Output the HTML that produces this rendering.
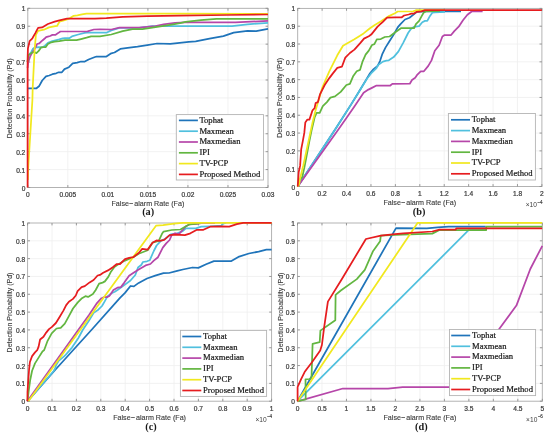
<!DOCTYPE html><html><head><meta charset="utf-8"><style>html,body{margin:0;padding:0;background:#fff;}svg{display:block;}</style></head><body>
<svg width="550" height="437" viewBox="0 0 550 437" style="will-change:transform">
<rect width="550" height="437" fill="#fff"/>
<path d="M67.83 8.3V187.5M107.87 8.3V187.5M147.9 8.3V187.5M187.93 8.3V187.5M227.97 8.3V187.5M27.8 169.58H268M27.8 151.66H268M27.8 133.74H268M27.8 115.82H268M27.8 97.9H268M27.8 79.98H268M27.8 62.06H268M27.8 44.14H268M27.8 26.22H268" stroke="#efefef" stroke-width="0.8" fill="none"/>
<rect x="27.8" y="8.3" width="240.2" height="179.2" fill="none" stroke="#ababab" stroke-width="0.9"/>
<path d="M27.8 187.5v-2.4M27.8 8.3v2.4M67.83 187.5v-2.4M67.83 8.3v2.4M107.87 187.5v-2.4M107.87 8.3v2.4M147.9 187.5v-2.4M147.9 8.3v2.4M187.93 187.5v-2.4M187.93 8.3v2.4M227.97 187.5v-2.4M227.97 8.3v2.4M268 187.5v-2.4M268 8.3v2.4M27.8 187.5h2.4M268 187.5h-2.4M27.8 169.58h2.4M268 169.58h-2.4M27.8 151.66h2.4M268 151.66h-2.4M27.8 133.74h2.4M268 133.74h-2.4M27.8 115.82h2.4M268 115.82h-2.4M27.8 97.9h2.4M268 97.9h-2.4M27.8 79.98h2.4M268 79.98h-2.4M27.8 62.06h2.4M268 62.06h-2.4M27.8 44.14h2.4M268 44.14h-2.4M27.8 26.22h2.4M268 26.22h-2.4M27.8 8.3h2.4M268 8.3h-2.4" stroke="#8f8f8f" stroke-width="0.9" fill="none"/>
<path d="M27.6 88.3 L36.5 88.3 L39 86.3 L42.2 80.5 L46 76.3 L49.2 75.5 L52.4 74.2 L56.2 73.3 L58.7 72.3 L61.9 72.3 L64.5 69.1 L68.9 67.2 L72.7 63.4 L77.2 62.7 L81 61.5 L84.8 61.5 L88.6 59.5 L95 57 L96.5 56.6 L106.4 56.6 L111.3 53.3 L114.5 52.5 L120.3 48.9 L127.6 47.9 L137.5 46.7 L147.3 45.1 L157.1 43.5 L170.2 43.8 L175 43.3 L188.8 41.8 L195.7 41.3 L209.5 38.7 L223.4 36.1 L233.7 32.6 L247.5 30.9 L256.2 31.1 L268 28.8" stroke="#1f74ba" stroke-width="1.75" fill="none" stroke-linejoin="round" stroke-linecap="butt"/>
<path d="M27.6 62 L28.4 55.4 L31.3 52 L33 48.6 L34.7 47.4 L38.7 47.2 L42.1 47.4 L45 45.7 L47.9 42.9 L52.4 41.1 L59.3 39.4 L62.7 38.3 L65 38.1 L69.2 38.2 L71.9 36.4 L78.3 34.5 L84.7 32.9 L89.3 32.5 L106.4 32.7 L111.3 30.4 L119.5 27.9 L139.1 27.9 L152.2 26 L171.8 26 L232 26.1 L247.5 24.3 L268 22.8" stroke="#50c0de" stroke-width="1.75" fill="none" stroke-linejoin="round" stroke-linecap="butt"/>
<path d="M27.6 68 L28.2 62.3 L30.1 56.6 L31.9 53.1 L33.6 50.9 L36.4 45.7 L37 44 L39.3 43.4 L41.6 41.1 L43.3 39.7 L45 38.3 L46.1 37.1 L47.9 36.6 L50.1 36 L52.4 34.9 L55.3 34.9 L58.1 33.1 L60.4 31.5 L87.5 31.3 L93.9 29.5 L100 29.3 L111.3 29.5 L119.5 27.6 L139.1 27.6 L155.5 26 L163.6 24.3 L175 22.8 L185.4 22.3 L235.4 22.3 L268 20.9" stroke="#b646a9" stroke-width="1.75" fill="none" stroke-linejoin="round" stroke-linecap="butt"/>
<path d="M27.6 62 L28.4 55.4 L31.9 52.6 L34.1 52 L36.4 53.1 L38.7 50.9 L41 47.4 L43.3 47.2 L45.6 47.2 L47.9 44 L51.3 42.3 L54.7 41.7 L59.3 41.1 L65 40.2 L76.5 40.2 L81 39.1 L86.5 37.7 L91.1 36.4 L100 36.4 L111.3 34.5 L122.7 31.2 L132.5 29.2 L142.4 29.2 L155.5 27.1 L171.8 24.6 L180 23.2 L185.4 21.9 L200.9 20.2 L216.5 18.8 L268 18.8" stroke="#62b640" stroke-width="1.75" fill="none" stroke-linejoin="round" stroke-linecap="butt"/>
<path d="M27.85 180 L28.2 168 L32.4 100 L32.7 88 L33.6 70 L34.7 48.6 L35.9 34.9 L38.1 30.9 L43.9 29.7 L49 27.4 L55.3 26.2 L57 26 L59.5 21.7 L65.5 19.9 L70.1 18.1 L73.7 15.8 L77.4 15.3 L82 14.4 L86.5 13.6 L95 13.6 L175 13.6 L268 13.9" stroke="#f1e81e" stroke-width="1.75" fill="none" stroke-linejoin="round" stroke-linecap="butt"/>
<path d="M27.6 187.5 L27.6 60 L27.9 48.6 L29.6 41.1 L32.4 38.3 L35.3 33.1 L38.1 27.8 L42.1 27.4 L47.9 24 L54.7 21.7 L59.4 20.3 L67 18.7 L95 18.7 L106.4 18.1 L122.7 16.8 L147.3 16.1 L180 15.7 L226.8 15 L268 14.5" stroke="#e61c1f" stroke-width="1.75" fill="none" stroke-linejoin="round" stroke-linecap="butt"/>
<g font-family='"Liberation Sans", sans-serif' font-size="6.6" fill="#3c3c3c" stroke="#3c3c3c" stroke-width="0.22">
<text x="27.8" y="196.8" text-anchor="middle">0</text>
<text x="67.83" y="196.8" text-anchor="middle">0.005</text>
<text x="107.87" y="196.8" text-anchor="middle">0.01</text>
<text x="147.9" y="196.8" text-anchor="middle">0.015</text>
<text x="187.93" y="196.8" text-anchor="middle">0.02</text>
<text x="227.97" y="196.8" text-anchor="middle">0.025</text>
<text x="268" y="196.8" text-anchor="middle">0.03</text>
<text x="25.3" y="190.5" text-anchor="end">0</text>
<text x="25.3" y="172.58" text-anchor="end">0.1</text>
<text x="25.3" y="154.66" text-anchor="end">0.2</text>
<text x="25.3" y="136.74" text-anchor="end">0.3</text>
<text x="25.3" y="118.82" text-anchor="end">0.4</text>
<text x="25.3" y="100.9" text-anchor="end">0.5</text>
<text x="25.3" y="82.98" text-anchor="end">0.6</text>
<text x="25.3" y="65.06" text-anchor="end">0.7</text>
<text x="25.3" y="47.14" text-anchor="end">0.8</text>
<text x="25.3" y="29.22" text-anchor="end">0.9</text>
<text x="25.3" y="11.3" text-anchor="end">1</text>
</g>
<text x="147.9" y="206" text-anchor="middle" font-family='"Liberation Sans", sans-serif' font-size="7.15" fill="#3c3c3c" stroke="#3c3c3c" stroke-width="0.12">False<tspan dx="0.05">−</tspan><tspan dx="1.1">alarm Rate (Fa)</tspan></text>
<text transform="translate(11.8 98.3) rotate(-90)" x="0" y="0" text-anchor="middle" font-family='"Liberation Sans", sans-serif' font-size="7.05" fill="#3c3c3c" stroke="#3c3c3c" stroke-width="0.12">Detection Probability (Pd)</text>
<text x="148.2" y="215.2" text-anchor="middle" font-family='"Liberation Serif", serif' font-weight="bold" font-size="10.3" fill="#1a1a1a">(a)</text>
<rect x="176.3" y="114.6" width="87.2" height="65.4" fill="#fff" stroke="#b4b4b4" stroke-width="0.9"/>
<path d="M178.9 120.4h19" stroke="#1f74ba" stroke-width="1.7"/>
<text x="199.4" y="122.75" font-family='"Liberation Serif", serif' font-size="8.6" fill="#1a1a1a" stroke="#1a1a1a" stroke-width="0.22">Tophat</text>
<path d="M178.9 131.2h19" stroke="#50c0de" stroke-width="1.7"/>
<text x="199.4" y="133.55" font-family='"Liberation Serif", serif' font-size="8.6" fill="#1a1a1a" stroke="#1a1a1a" stroke-width="0.22">Maxmean</text>
<path d="M178.9 142h19" stroke="#b646a9" stroke-width="1.7"/>
<text x="199.4" y="144.35" font-family='"Liberation Serif", serif' font-size="8.6" fill="#1a1a1a" stroke="#1a1a1a" stroke-width="0.22">Maxmedian</text>
<path d="M178.9 152.8h19" stroke="#62b640" stroke-width="1.7"/>
<text x="199.4" y="155.15" font-family='"Liberation Serif", serif' font-size="8.6" fill="#1a1a1a" stroke="#1a1a1a" stroke-width="0.22">IPI</text>
<path d="M178.9 163.6h19" stroke="#f1e81e" stroke-width="1.7"/>
<text x="199.4" y="165.95" font-family='"Liberation Serif", serif' font-size="8.6" fill="#1a1a1a" stroke="#1a1a1a" stroke-width="0.22">TV-PCP</text>
<path d="M178.9 174.4h19" stroke="#e61c1f" stroke-width="1.7"/>
<text x="199.4" y="176.75" font-family='"Liberation Serif", serif' font-size="8.6" fill="#1a1a1a" stroke="#1a1a1a" stroke-width="0.22">Proposed Method</text>
<path d="M322.12 8.4V186.5M346.54 8.4V186.5M370.96 8.4V186.5M395.38 8.4V186.5M419.8 8.4V186.5M444.22 8.4V186.5M468.64 8.4V186.5M493.06 8.4V186.5M517.48 8.4V186.5M297.7 168.69H541.9M297.7 150.88H541.9M297.7 133.07H541.9M297.7 115.26H541.9M297.7 97.45H541.9M297.7 79.64H541.9M297.7 61.83H541.9M297.7 44.02H541.9M297.7 26.21H541.9" stroke="#efefef" stroke-width="0.8" fill="none"/>
<rect x="297.7" y="8.4" width="244.2" height="178.1" fill="none" stroke="#ababab" stroke-width="0.9"/>
<path d="M297.7 186.5v-2.4M297.7 8.4v2.4M322.12 186.5v-2.4M322.12 8.4v2.4M346.54 186.5v-2.4M346.54 8.4v2.4M370.96 186.5v-2.4M370.96 8.4v2.4M395.38 186.5v-2.4M395.38 8.4v2.4M419.8 186.5v-2.4M419.8 8.4v2.4M444.22 186.5v-2.4M444.22 8.4v2.4M468.64 186.5v-2.4M468.64 8.4v2.4M493.06 186.5v-2.4M493.06 8.4v2.4M517.48 186.5v-2.4M517.48 8.4v2.4M541.9 186.5v-2.4M541.9 8.4v2.4M297.7 186.5h2.4M541.9 186.5h-2.4M297.7 168.69h2.4M541.9 168.69h-2.4M297.7 150.88h2.4M541.9 150.88h-2.4M297.7 133.07h2.4M541.9 133.07h-2.4M297.7 115.26h2.4M541.9 115.26h-2.4M297.7 97.45h2.4M541.9 97.45h-2.4M297.7 79.64h2.4M541.9 79.64h-2.4M297.7 61.83h2.4M541.9 61.83h-2.4M297.7 44.02h2.4M541.9 44.02h-2.4M297.7 26.21h2.4M541.9 26.21h-2.4M297.7 8.4h2.4M541.9 8.4h-2.4" stroke="#8f8f8f" stroke-width="0.9" fill="none"/>
<path d="M297.7 186.5 L334.8 130 L351 104.6 L358.5 92.5 L366.8 78.6 L369.6 73.9 L373.6 69.1 L377.6 65.9 L380 61.1 L382.4 53.8 L385.6 47.4 L389.6 41 L393.7 34.6 L397.7 27.4 L400.5 24.1 L405 19.5 L409.5 17.7 L414.1 14.1 L416.8 11.8 L425 11.4 L461 11.4" stroke="#1f74ba" stroke-width="1.75" fill="none" stroke-linejoin="round" stroke-linecap="butt"/>
<path d="M297.7 186.5 L334.8 130 L351 104.6 L358.5 92.5 L366.8 79 L371.6 72.8 L376.5 68 L378.1 65 L382.9 61.6 L386.4 60.6 L388.8 60.3 L393.7 57.1 L398.5 51.4 L403.3 42.6 L408.1 33 L410.9 29.1 L414.1 26.8 L419.1 26.1 L422.3 22.3 L425 20.9 L427.3 20.9 L430 15.9 L432.3 12.7 L435 12.3 L445 11.8" stroke="#50c0de" stroke-width="1.75" fill="none" stroke-linejoin="round" stroke-linecap="butt"/>
<path d="M297.7 186.5 L338 130 L346.6 117.7 L354.4 106.5 L363.6 92.8 L368.4 89.6 L372.4 87.6 L376.5 85.5 L390.3 85.5 L392.3 83.8 L409.8 83.7 L412 80 L415.2 77.8 L417.4 74.6 L420.7 71.3 L423.9 71.3 L428.3 65.9 L431.5 60.4 L434.8 50.7 L439.1 45.2 L442.4 36.5 L444.6 35 L451.1 35 L454.3 31.1 L458.7 26.7 L463 20.2 L467.4 14.8 L471.7 11.5 L482.6 11.3" stroke="#b646a9" stroke-width="1.75" fill="none" stroke-linejoin="round" stroke-linecap="butt"/>
<path d="M297.7 186.5 L300.1 179.3 L302.2 177.2 L304.3 167.9 L306.3 157.6 L309.4 141.2 L311.5 130.9 L314.6 117.5 L316.6 112.8 L319.7 112.8 L322.8 106.2 L326.9 102.1 L330.4 97.6 L335 96.4 L340.7 91.9 L346.4 85 L349.9 83.9 L353.3 75.9 L356.7 71.3 L360 69.9 L362.4 61.9 L365.6 54.6 L368.8 50.6 L372 45 L374.4 44.2 L376.8 39.4 L380.8 39.1 L384.8 37 L389.6 36.5 L395.3 32.2 L400.9 28.2 L414.1 28.2 L415.9 24.1 L419.1 20.9 L421.8 15.9 L423.6 12.7 L425.9 11.5 L440 11" stroke="#62b640" stroke-width="1.75" fill="none" stroke-linejoin="round" stroke-linecap="butt"/>
<path d="M297.7 186.5 L299.1 184.4 L300.1 178.2 L303.2 165.9 L306.3 151.5 L309.4 137.1 L312.5 122.6 L315.6 110.3 L318.7 100 L322.4 87.3 L329.3 71.3 L337.3 55.3 L343 45.7 L354.4 39.3 L360 35.8 L363.6 33.4 L370 28.3 L374.4 25.2 L381.4 21 L388.3 16.4 L395 13.2 L397.7 11.5 L413.2 11.4 L415.9 10.2 L424.1 10 L445 10.1" stroke="#f1e81e" stroke-width="1.75" fill="none" stroke-linejoin="round" stroke-linecap="butt"/>
<path d="M297.7 186.5 L298.7 172 L300.1 165.9 L301.2 149.4 L302.8 141.2 L304.3 132.9 L305.3 122.6 L307.4 119.6 L309.4 119.6 L311.5 113.4 L312.5 110.3 L314.6 108.2 L315.6 103.1 L317.9 102.1 L320.1 94.1 L324.7 85 L329.3 78.1 L332.7 73.6 L337.3 67.9 L341.9 66.7 L345.3 57.6 L349.9 53 L354.4 49.6 L360 43.4 L364 38.6 L368.8 36.2 L371.2 34.6 L374.4 30.6 L377.6 26.6 L380 24.4 L382.6 22.1 L387.1 17.6 L395 17.3 L401.8 17.3 L404.1 15.5 L408.6 14.5 L411.4 13.6 L414.1 13.6 L416.8 11.8 L421.4 11.4 L425 10.1 L541.9 10.1" stroke="#e61c1f" stroke-width="1.75" fill="none" stroke-linejoin="round" stroke-linecap="butt"/>
<g font-family='"Liberation Sans", sans-serif' font-size="6.6" fill="#3c3c3c" stroke="#3c3c3c" stroke-width="0.22">
<text x="297.7" y="195.8" text-anchor="middle">0</text>
<text x="322.12" y="195.8" text-anchor="middle">0.2</text>
<text x="346.54" y="195.8" text-anchor="middle">0.4</text>
<text x="370.96" y="195.8" text-anchor="middle">0.6</text>
<text x="395.38" y="195.8" text-anchor="middle">0.8</text>
<text x="419.8" y="195.8" text-anchor="middle">1</text>
<text x="444.22" y="195.8" text-anchor="middle">1.2</text>
<text x="468.64" y="195.8" text-anchor="middle">1.4</text>
<text x="493.06" y="195.8" text-anchor="middle">1.6</text>
<text x="517.48" y="195.8" text-anchor="middle">1.8</text>
<text x="541.9" y="195.8" text-anchor="middle">2</text>
<text x="295.2" y="189.5" text-anchor="end">0</text>
<text x="295.2" y="171.69" text-anchor="end">0.1</text>
<text x="295.2" y="153.88" text-anchor="end">0.2</text>
<text x="295.2" y="136.07" text-anchor="end">0.3</text>
<text x="295.2" y="118.26" text-anchor="end">0.4</text>
<text x="295.2" y="100.45" text-anchor="end">0.5</text>
<text x="295.2" y="82.64" text-anchor="end">0.6</text>
<text x="295.2" y="64.83" text-anchor="end">0.7</text>
<text x="295.2" y="47.02" text-anchor="end">0.8</text>
<text x="295.2" y="29.21" text-anchor="end">0.9</text>
<text x="295.2" y="11.4" text-anchor="end">1</text>
</g>
<text x="536.9" y="206.8" text-anchor="end" font-family='"Liberation Sans", sans-serif' font-size="6.6" fill="#3c3c3c">×10</text>
<text x="537.5" y="203.5" font-family='"Liberation Sans", sans-serif' font-size="4.6" fill="#3c3c3c" stroke="#3c3c3c" stroke-width="0.15" letter-spacing="-0.25">−4</text>
<text x="419.8" y="205" text-anchor="middle" font-family='"Liberation Sans", sans-serif' font-size="7.15" fill="#3c3c3c" stroke="#3c3c3c" stroke-width="0.12">False<tspan dx="0.05">−</tspan><tspan dx="1.1">alarm Rate (Fa)</tspan></text>
<text transform="translate(282.2 97.85) rotate(-90)" x="0" y="0" text-anchor="middle" font-family='"Liberation Sans", sans-serif' font-size="7.05" fill="#3c3c3c" stroke="#3c3c3c" stroke-width="0.12">Detection Probability (Pd)</text>
<text x="419.1" y="215.2" text-anchor="middle" font-family='"Liberation Serif", serif' font-weight="bold" font-size="10.3" fill="#1a1a1a">(b)</text>
<rect x="448.4" y="113.5" width="87" height="66.5" fill="#fff" stroke="#b4b4b4" stroke-width="0.9"/>
<path d="M451 119.8h19" stroke="#1f74ba" stroke-width="1.7"/>
<text x="471.7" y="122.15" font-family='"Liberation Serif", serif' font-size="8.6" fill="#1a1a1a" stroke="#1a1a1a" stroke-width="0.22">Tophat</text>
<path d="M451 130.6h19" stroke="#50c0de" stroke-width="1.7"/>
<text x="471.7" y="132.95" font-family='"Liberation Serif", serif' font-size="8.6" fill="#1a1a1a" stroke="#1a1a1a" stroke-width="0.22">Maxmean</text>
<path d="M451 141.4h19" stroke="#b646a9" stroke-width="1.7"/>
<text x="471.7" y="143.75" font-family='"Liberation Serif", serif' font-size="8.6" fill="#1a1a1a" stroke="#1a1a1a" stroke-width="0.22">Maxmedian</text>
<path d="M451 152.2h19" stroke="#62b640" stroke-width="1.7"/>
<text x="471.7" y="154.55" font-family='"Liberation Serif", serif' font-size="8.6" fill="#1a1a1a" stroke="#1a1a1a" stroke-width="0.22">IPI</text>
<path d="M451 163h19" stroke="#f1e81e" stroke-width="1.7"/>
<text x="471.7" y="165.35" font-family='"Liberation Serif", serif' font-size="8.6" fill="#1a1a1a" stroke="#1a1a1a" stroke-width="0.22">TV-PCP</text>
<path d="M451 173.8h19" stroke="#e61c1f" stroke-width="1.7"/>
<text x="471.7" y="176.15" font-family='"Liberation Serif", serif' font-size="8.6" fill="#1a1a1a" stroke="#1a1a1a" stroke-width="0.22">Proposed Method</text>
<path d="M52 223V401.2M76.4 223V401.2M100.8 223V401.2M125.2 223V401.2M149.6 223V401.2M174 223V401.2M198.4 223V401.2M222.8 223V401.2M247.2 223V401.2M27.6 383.38H271.6M27.6 365.56H271.6M27.6 347.74H271.6M27.6 329.92H271.6M27.6 312.1H271.6M27.6 294.28H271.6M27.6 276.46H271.6M27.6 258.64H271.6M27.6 240.82H271.6" stroke="#efefef" stroke-width="0.8" fill="none"/>
<rect x="27.6" y="223" width="244" height="178.2" fill="none" stroke="#ababab" stroke-width="0.9"/>
<path d="M27.6 401.2v-2.4M27.6 223v2.4M52 401.2v-2.4M52 223v2.4M76.4 401.2v-2.4M76.4 223v2.4M100.8 401.2v-2.4M100.8 223v2.4M125.2 401.2v-2.4M125.2 223v2.4M149.6 401.2v-2.4M149.6 223v2.4M174 401.2v-2.4M174 223v2.4M198.4 401.2v-2.4M198.4 223v2.4M222.8 401.2v-2.4M222.8 223v2.4M247.2 401.2v-2.4M247.2 223v2.4M271.6 401.2v-2.4M271.6 223v2.4M27.6 401.2h2.4M271.6 401.2h-2.4M27.6 383.38h2.4M271.6 383.38h-2.4M27.6 365.56h2.4M271.6 365.56h-2.4M27.6 347.74h2.4M271.6 347.74h-2.4M27.6 329.92h2.4M271.6 329.92h-2.4M27.6 312.1h2.4M271.6 312.1h-2.4M27.6 294.28h2.4M271.6 294.28h-2.4M27.6 276.46h2.4M271.6 276.46h-2.4M27.6 258.64h2.4M271.6 258.64h-2.4M27.6 240.82h2.4M271.6 240.82h-2.4M27.6 223h2.4M271.6 223h-2.4" stroke="#8f8f8f" stroke-width="0.9" fill="none"/>
<path d="M27.6 401.2 L56 369 L91.4 330 L120 297.8 L125 292.9 L130.5 286 L133.9 286.4 L138.7 282.9 L147 278.5 L155.2 275.7 L163.5 273.2 L169 273 L177.2 270.9 L182.8 269.5 L192.5 267.5 L198.3 267.9 L206.1 264.2 L213.9 261.1 L231.4 261.1 L239.2 256.6 L248.9 253.5 L258.7 251.6 L266.4 249.6 L271.6 249.6" stroke="#1f74ba" stroke-width="1.75" fill="none" stroke-linejoin="round" stroke-linecap="butt"/>
<path d="M27.6 401.2 L53.5 371.2 L55.2 368.3 L56 365.2 L58.4 361.2 L64 356.4 L65.6 354.8 L72 347.6 L78.4 338 L82.7 330 L89.2 320.2 L93.7 312.9 L98.3 309.7 L102 306 L104.7 301.4 L107.5 296.4 L111.6 293.2 L114.8 291.8 L117.5 290 L125 284.6 L130.5 280.5 L135.3 275 L138 267.5 L141.5 264.7 L142.9 262 L147 261.3 L149.7 260.3 L153.8 251 L156.6 245.5 L160.9 240.9 L165.3 238.7 L170.7 234.4 L177.3 233.3 L182.7 231.1 L186 228.4 L195.8 228.4 L201.3 226.7 L210.1 226.3 L221.5 225.6 L222.8 223.7 L226 222.8" stroke="#50c0de" stroke-width="1.75" fill="none" stroke-linejoin="round" stroke-linecap="butt"/>
<path d="M27.3 401.2 L80 327.5 L89.2 314.7 L96.5 303.7 L101.5 298.2 L104.7 296.9 L107 297.1 L109.3 296 L111.6 292.7 L113.4 290 L117.4 287.7 L120.9 287.1 L124.3 282.6 L129.1 275.7 L133.2 273 L138.7 269.5 L145.6 265.4 L150.4 264 L153.8 260.6 L158 257.2 L162.8 247.6 L166.2 243.4 L169.6 240 L171.8 234.9 L175.1 233.3 L178.9 234.1 L182.7 230 L186 226.2 L189.3 224.5 L196.9 223.9 L201.3 223.1 L215 223.1" stroke="#b646a9" stroke-width="1.75" fill="none" stroke-linejoin="round" stroke-linecap="butt"/>
<path d="M27.5 401.2 L28.6 392 L30.2 380 L32.1 370.7 L35 363.4 L38.6 357.6 L42.3 351.7 L44.2 350 L47.6 340.8 L51.7 333.3 L56.5 328.5 L60.7 327.8 L64.8 323.7 L68.9 316.1 L73 308.5 L77.8 302.4 L82 298.2 L85.4 296.2 L88.1 296.9 L92.9 294.1 L95.7 290 L99.1 283.7 L102.6 282.6 L104.9 281.4 L108.3 276.9 L110.6 272.3 L114.4 266.9 L117.6 264.8 L125 260.6 L133.2 257.2 L138.7 253.7 L147.7 250.3 L152.5 242.7 L158.7 240.9 L162 233.8 L163.6 231.6 L171.8 230 L180.5 229.5 L186 226.2 L189.3 224.5 L196.9 223.7 L201.3 222.9" stroke="#62b640" stroke-width="1.75" fill="none" stroke-linejoin="round" stroke-linecap="butt"/>
<path d="M28.3 401.2 L156 225.7 L163.1 225.1 L174 223.7 L182.7 222.9 L271.6 222.9" stroke="#f1e81e" stroke-width="1.75" fill="none" stroke-linejoin="round" stroke-linecap="butt"/>
<path d="M27.4 401.2 L27.5 392 L28.3 380 L29.1 369.3 L29.9 362 L32.1 356.1 L35 352.4 L37.2 350.2 L38.6 346.6 L40.1 339.5 L43.5 336.7 L46.2 332.6 L49 329.1 L51.7 327.1 L55.9 323 L59.3 317.5 L63.4 310.6 L66.2 305.1 L68.9 301.7 L73 298.9 L75.8 295.5 L77.6 291.2 L81.6 287.2 L84.8 286.1 L89.6 282.4 L93.6 280 L97.6 275.5 L100 274.9 L103.2 272.8 L108 270.4 L112.8 267.2 L116.8 264 L120 264 L125 259.2 L129.1 257.9 L133.2 257.2 L138.7 253 L142.2 248.9 L147.7 249.6 L152.5 242.7 L156.5 240.4 L159.8 240.9 L164.2 239.8 L169.6 235.2 L175.1 234.6 L184.9 235.2 L190.4 233.3 L196.9 229.8 L203.4 229.8 L210.1 226.7 L221.5 226.3 L229.2 226.7 L236.8 224.1 L243.2 222.8 L271.6 222.8" stroke="#e61c1f" stroke-width="1.75" fill="none" stroke-linejoin="round" stroke-linecap="butt"/>
<g font-family='"Liberation Sans", sans-serif' font-size="6.6" fill="#3c3c3c" stroke="#3c3c3c" stroke-width="0.22">
<text x="27.6" y="411.1" text-anchor="middle">0</text>
<text x="52" y="411.1" text-anchor="middle">0.1</text>
<text x="76.4" y="411.1" text-anchor="middle">0.2</text>
<text x="100.8" y="411.1" text-anchor="middle">0.3</text>
<text x="125.2" y="411.1" text-anchor="middle">0.4</text>
<text x="149.6" y="411.1" text-anchor="middle">0.5</text>
<text x="174" y="411.1" text-anchor="middle">0.6</text>
<text x="198.4" y="411.1" text-anchor="middle">0.7</text>
<text x="222.8" y="411.1" text-anchor="middle">0.8</text>
<text x="247.2" y="411.1" text-anchor="middle">0.9</text>
<text x="271.6" y="411.1" text-anchor="middle">1</text>
<text x="25.1" y="404.2" text-anchor="end">0</text>
<text x="25.1" y="386.38" text-anchor="end">0.1</text>
<text x="25.1" y="368.56" text-anchor="end">0.2</text>
<text x="25.1" y="350.74" text-anchor="end">0.3</text>
<text x="25.1" y="332.92" text-anchor="end">0.4</text>
<text x="25.1" y="315.1" text-anchor="end">0.5</text>
<text x="25.1" y="297.28" text-anchor="end">0.6</text>
<text x="25.1" y="279.46" text-anchor="end">0.7</text>
<text x="25.1" y="261.64" text-anchor="end">0.8</text>
<text x="25.1" y="243.82" text-anchor="end">0.9</text>
<text x="25.1" y="226" text-anchor="end">1</text>
</g>
<text x="266.6" y="421.5" text-anchor="end" font-family='"Liberation Sans", sans-serif' font-size="6.6" fill="#3c3c3c">×10</text>
<text x="267.2" y="418.2" font-family='"Liberation Sans", sans-serif' font-size="4.6" fill="#3c3c3c" stroke="#3c3c3c" stroke-width="0.15" letter-spacing="-0.25">−4</text>
<text x="149.6" y="420.1" text-anchor="middle" font-family='"Liberation Sans", sans-serif' font-size="7.15" fill="#3c3c3c" stroke="#3c3c3c" stroke-width="0.12">False<tspan dx="0.05">−</tspan><tspan dx="1.1">alarm Rate (Fa)</tspan></text>
<text transform="translate(12.3 312.5) rotate(-90)" x="0" y="0" text-anchor="middle" font-family='"Liberation Sans", sans-serif' font-size="7.05" fill="#3c3c3c" stroke="#3c3c3c" stroke-width="0.12">Detection Probability (Pd)</text>
<text x="151" y="429.5" text-anchor="middle" font-family='"Liberation Serif", serif' font-weight="bold" font-size="10.3" fill="#1a1a1a">(c)</text>
<rect x="180.4" y="330.4" width="86.2" height="66" fill="#fff" stroke="#b4b4b4" stroke-width="0.9"/>
<path d="M182.3 336.5h19" stroke="#1f74ba" stroke-width="1.7"/>
<text x="203.1" y="338.85" font-family='"Liberation Serif", serif' font-size="8.6" fill="#1a1a1a" stroke="#1a1a1a" stroke-width="0.22">Tophat</text>
<path d="M182.3 347.3h19" stroke="#50c0de" stroke-width="1.7"/>
<text x="203.1" y="349.65" font-family='"Liberation Serif", serif' font-size="8.6" fill="#1a1a1a" stroke="#1a1a1a" stroke-width="0.22">Maxmean</text>
<path d="M182.3 358.1h19" stroke="#b646a9" stroke-width="1.7"/>
<text x="203.1" y="360.45" font-family='"Liberation Serif", serif' font-size="8.6" fill="#1a1a1a" stroke="#1a1a1a" stroke-width="0.22">Maxmedian</text>
<path d="M182.3 368.9h19" stroke="#62b640" stroke-width="1.7"/>
<text x="203.1" y="371.25" font-family='"Liberation Serif", serif' font-size="8.6" fill="#1a1a1a" stroke="#1a1a1a" stroke-width="0.22">IPI</text>
<path d="M182.3 379.7h19" stroke="#f1e81e" stroke-width="1.7"/>
<text x="203.1" y="382.05" font-family='"Liberation Serif", serif' font-size="8.6" fill="#1a1a1a" stroke="#1a1a1a" stroke-width="0.22">TV-PCP</text>
<path d="M182.3 390.5h19" stroke="#e61c1f" stroke-width="1.7"/>
<text x="203.1" y="392.85" font-family='"Liberation Serif", serif' font-size="8.6" fill="#1a1a1a" stroke="#1a1a1a" stroke-width="0.22">Proposed Method</text>
<path d="M321.98 223V401.2M346.46 223V401.2M370.94 223V401.2M395.42 223V401.2M419.9 223V401.2M444.38 223V401.2M468.86 223V401.2M493.34 223V401.2M517.82 223V401.2M297.5 383.38H542.3M297.5 365.56H542.3M297.5 347.74H542.3M297.5 329.92H542.3M297.5 312.1H542.3M297.5 294.28H542.3M297.5 276.46H542.3M297.5 258.64H542.3M297.5 240.82H542.3" stroke="#efefef" stroke-width="0.8" fill="none"/>
<rect x="297.5" y="223" width="244.8" height="178.2" fill="none" stroke="#ababab" stroke-width="0.9"/>
<path d="M297.5 401.2v-2.4M297.5 223v2.4M321.98 401.2v-2.4M321.98 223v2.4M346.46 401.2v-2.4M346.46 223v2.4M370.94 401.2v-2.4M370.94 223v2.4M395.42 401.2v-2.4M395.42 223v2.4M419.9 401.2v-2.4M419.9 223v2.4M444.38 401.2v-2.4M444.38 223v2.4M468.86 401.2v-2.4M468.86 223v2.4M493.34 401.2v-2.4M493.34 223v2.4M517.82 401.2v-2.4M517.82 223v2.4M542.3 401.2v-2.4M542.3 223v2.4M297.5 401.2h2.4M542.3 401.2h-2.4M297.5 383.38h2.4M542.3 383.38h-2.4M297.5 365.56h2.4M542.3 365.56h-2.4M297.5 347.74h2.4M542.3 347.74h-2.4M297.5 329.92h2.4M542.3 329.92h-2.4M297.5 312.1h2.4M542.3 312.1h-2.4M297.5 294.28h2.4M542.3 294.28h-2.4M297.5 276.46h2.4M542.3 276.46h-2.4M297.5 258.64h2.4M542.3 258.64h-2.4M297.5 240.82h2.4M542.3 240.82h-2.4M297.5 223h2.4M542.3 223h-2.4" stroke="#8f8f8f" stroke-width="0.9" fill="none"/>
<path d="M297.5 401.2 L396 228.1 L426.8 228.4 L437.7 227.4 L448.6 226.7 L485.7 226.7" stroke="#1f74ba" stroke-width="1.75" fill="none" stroke-linejoin="round" stroke-linecap="butt"/>
<path d="M297.5 401.2 L468.6 230.2 L486 230.2" stroke="#50c0de" stroke-width="1.75" fill="none" stroke-linejoin="round" stroke-linecap="butt"/>
<path d="M297.5 401.3 L342.9 388.5 L370 388.6 L388 388.6 L402.7 387.1 L461 387.1 L499 329.3 L516.4 305.6 L530.3 269 L542.3 245.8" stroke="#b646a9" stroke-width="1.75" fill="none" stroke-linejoin="round" stroke-linecap="butt"/>
<path d="M297.5 401.2 L305.7 399.5 L305.5 379.3 L309.6 379 L311.5 377.8 L312.6 343.9 L319.7 342.2 L320.4 330.6 L335.3 320.2 L335.6 294.9 L340.8 290.5 L356.8 279.1 L364.8 269.9 L372.8 251.6 L380.1 241.3 L380.8 235.6 L395 234.8 L432.3 233.6 L439.5 230 L486.2 230 L486.2 226.7 L542.2 226.7" stroke="#62b640" stroke-width="1.75" fill="none" stroke-linejoin="round" stroke-linecap="butt"/>
<path d="M297.5 401.2 L417.7 222.8 L542.2 222.8" stroke="#f1e81e" stroke-width="1.75" fill="none" stroke-linejoin="round" stroke-linecap="butt"/>
<path d="M297.6 401.2 L297.6 387 L298.7 384.6 L301 379.3 L304.6 372.1 L307.2 368.5 L311.8 362.5 L320.2 350.5 L321.9 345 L324.1 327.6 L327.9 301.6 L341.3 280 L365.9 239 L380.8 235.6 L395 234.2 L403.2 233.4 L432.3 231.5 L439.5 229.7 L455.6 229.7 L456.4 228.3 L542.2 228.3" stroke="#e61c1f" stroke-width="1.75" fill="none" stroke-linejoin="round" stroke-linecap="butt"/>
<g font-family='"Liberation Sans", sans-serif' font-size="6.6" fill="#3c3c3c" stroke="#3c3c3c" stroke-width="0.22">
<text x="297.5" y="411.1" text-anchor="middle">0</text>
<text x="321.98" y="411.1" text-anchor="middle">0.5</text>
<text x="346.46" y="411.1" text-anchor="middle">1</text>
<text x="370.94" y="411.1" text-anchor="middle">1.5</text>
<text x="395.42" y="411.1" text-anchor="middle">2</text>
<text x="419.9" y="411.1" text-anchor="middle">2.5</text>
<text x="444.38" y="411.1" text-anchor="middle">3</text>
<text x="468.86" y="411.1" text-anchor="middle">3.5</text>
<text x="493.34" y="411.1" text-anchor="middle">4</text>
<text x="517.82" y="411.1" text-anchor="middle">4.5</text>
<text x="542.3" y="411.1" text-anchor="middle">5</text>
<text x="295" y="404.2" text-anchor="end">0</text>
<text x="295" y="386.38" text-anchor="end">0.1</text>
<text x="295" y="368.56" text-anchor="end">0.2</text>
<text x="295" y="350.74" text-anchor="end">0.3</text>
<text x="295" y="332.92" text-anchor="end">0.4</text>
<text x="295" y="315.1" text-anchor="end">0.5</text>
<text x="295" y="297.28" text-anchor="end">0.6</text>
<text x="295" y="279.46" text-anchor="end">0.7</text>
<text x="295" y="261.64" text-anchor="end">0.8</text>
<text x="295" y="243.82" text-anchor="end">0.9</text>
<text x="295" y="226" text-anchor="end">1</text>
</g>
<text x="537.3" y="421.5" text-anchor="end" font-family='"Liberation Sans", sans-serif' font-size="6.6" fill="#3c3c3c">×10</text>
<text x="537.9" y="418.2" font-family='"Liberation Sans", sans-serif' font-size="4.6" fill="#3c3c3c" stroke="#3c3c3c" stroke-width="0.15" letter-spacing="-0.25">−6</text>
<text x="419.9" y="420.1" text-anchor="middle" font-family='"Liberation Sans", sans-serif' font-size="7.15" fill="#3c3c3c" stroke="#3c3c3c" stroke-width="0.12">False<tspan dx="0.05">−</tspan><tspan dx="1.1">alarm Rate (Fa)</tspan></text>
<text transform="translate(282.5 312.5) rotate(-90)" x="0" y="0" text-anchor="middle" font-family='"Liberation Sans", sans-serif' font-size="7.05" fill="#3c3c3c" stroke="#3c3c3c" stroke-width="0.12">Detection Probability (Pd)</text>
<text x="421.4" y="429.8" text-anchor="middle" font-family='"Liberation Serif", serif' font-weight="bold" font-size="10.3" fill="#1a1a1a">(d)</text>
<rect x="449.5" y="329.5" width="86.1" height="66.1" fill="#fff" stroke="#b4b4b4" stroke-width="0.9"/>
<path d="M451.2 335.5h19" stroke="#1f74ba" stroke-width="1.7"/>
<text x="472.1" y="337.85" font-family='"Liberation Serif", serif' font-size="8.6" fill="#1a1a1a" stroke="#1a1a1a" stroke-width="0.22">Tophat</text>
<path d="M451.2 346.3h19" stroke="#50c0de" stroke-width="1.7"/>
<text x="472.1" y="348.65" font-family='"Liberation Serif", serif' font-size="8.6" fill="#1a1a1a" stroke="#1a1a1a" stroke-width="0.22">Maxmean</text>
<path d="M451.2 357.1h19" stroke="#b646a9" stroke-width="1.7"/>
<text x="472.1" y="359.45" font-family='"Liberation Serif", serif' font-size="8.6" fill="#1a1a1a" stroke="#1a1a1a" stroke-width="0.22">Maxmedian</text>
<path d="M451.2 367.9h19" stroke="#62b640" stroke-width="1.7"/>
<text x="472.1" y="370.25" font-family='"Liberation Serif", serif' font-size="8.6" fill="#1a1a1a" stroke="#1a1a1a" stroke-width="0.22">IPI</text>
<path d="M451.2 378.7h19" stroke="#f1e81e" stroke-width="1.7"/>
<text x="472.1" y="381.05" font-family='"Liberation Serif", serif' font-size="8.6" fill="#1a1a1a" stroke="#1a1a1a" stroke-width="0.22">TV-PCP</text>
<path d="M451.2 389.5h19" stroke="#e61c1f" stroke-width="1.7"/>
<text x="472.1" y="391.85" font-family='"Liberation Serif", serif' font-size="8.6" fill="#1a1a1a" stroke="#1a1a1a" stroke-width="0.22">Proposed Method</text>
</svg></body></html>
